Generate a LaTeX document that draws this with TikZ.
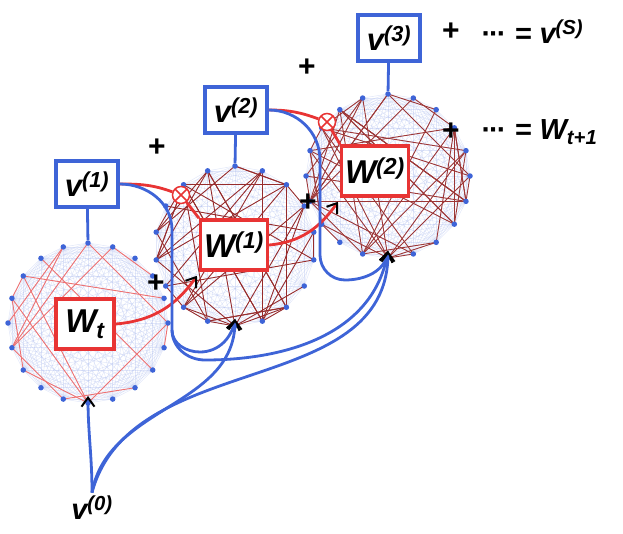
\documentclass[tikz,border=0pt]{standalone}
\usepackage{fontspec}
\setmainfont{Liberation Sans}
\usetikzlibrary{arrows.meta}

\definecolor{vblue}{RGB}{62,100,215}
\definecolor{wred}{RGB}{232,52,52}
\definecolor{dred}{RGB}{140,20,20}

\tikzset{
  dot/.style = {circle, fill=vblue, inner sep=0pt, minimum size=5.5pt},
  vbox/.style = {draw=vblue, line width=3.5pt, fill=white, minimum width=62pt, minimum height=46pt, font=\fontsize{31}{32}\selectfont\bfseries\itshape},
  wbox/.style = {draw=wred, line width=3.5pt, fill=white, minimum width=58pt, minimum height=50pt, font=\fontsize{33}{34}\selectfont\bfseries\itshape},
  bline/.style = {draw=vblue, line width=2.8pt},
  rline/.style = {draw=wred, line width=2.8pt},
  tip/.style = {-{Straight Barb[length=9pt,width=13pt,line width=2pt,black]}},
  otim/.style = {circle, draw=wred, fill=white, line width=1.5pt, minimum size=17pt, inner sep=0pt,
    path picture={\draw[wred, line width=1.5pt] (path picture bounding box.north west) -- (path picture bounding box.south east)
      (path picture bounding box.north east) -- (path picture bounding box.south west);}},
  plus/.style = {font=\fontsize{30}{30}\selectfont\bfseries},
  txt/.style = {font=\fontsize{29}{30}\selectfont\bfseries\itshape}
}

% network: name, centre x, centre y, radius, number of dots, red colour, number of red edges
\newcommand{\drawnet}[7]{
  \foreach \i in {0,...,\numexpr#5-1} {
    \coordinate (#1-p\i) at ({#2+#4*cos(90-\i*360/#5)}, {#3-#4*sin(90-\i*360/#5)});
  }
  \foreach \i in {0,...,\numexpr#5-2} {
    \foreach \j in {\i,...,\numexpr#5-1} {
      \draw[vblue!50, opacity=0.3, line width=0.5pt] (#1-p\i) -- (#1-p\j);
    }
  }
  \pgfmathsetseed{#5}
  \foreach \k in {1,...,#7} {
    \pgfmathrandominteger{\a}{0}{#5-1}
    \pgfmathrandominteger{\b}{0}{#5-1}
    \draw[#6, line width=0.9pt] (#1-p\a) -- (#1-p\b);
  }
  \foreach \i in {0,...,\numexpr#5-1} {
    \node[dot] (#1-\i) at (#1-p\i) {};
  }
}

\begin{document}
\begin{tikzpicture}[x=1pt, y=-1pt]
\useasboundingbox (0,0) rectangle (623,533);

\drawnet{na}{88}{323}{80}{20}{wred!70}{18}
\drawnet{nb}{235}{246}{80}{18}{dred!90}{45}
\drawnet{nc}{388}{176}{82}{20}{dred!85}{50}

% boxes
\node[vbox] (v1) at (87,184) {v\textsuperscript{(1)}};
\node[vbox] (v2) at (236,110) {v\textsuperscript{(2)}};
\node[vbox] (v3) at (389,38) {v\textsuperscript{(3)}};
\node[wbox] (Wt) at (85,324) {W\textsubscript{t}};
\node[wbox] (W1) at (234,245) {W\textsuperscript{(1)}};
\node[wbox] (W2) at (375,171) {W\textsuperscript{(2)}};
\node[otim] (o1) at (181,195) {};
\node[otim] (o2) at (327,122) {};
\node[txt] (v0) at (92,508) {v\textsuperscript{(0)}};

% plus signs and sums
\node[plus] (p1) at (157,148) {+};
\node[plus] (p2) at (156,284) {+};
\node[plus] (p3) at (307,68) {+};
\node[plus] (p4) at (308,203) {+};
\node[plus] (p5) at (451,32) {+};
\node[plus] (p6) at (451,132) {+};
\node[txt, anchor=west] (sv) at (478,32) {{\upshape\textperiodcentered\kern-2pt\textperiodcentered\kern-2pt\textperiodcentered} = v\textsuperscript{(S)}};
\node[txt, anchor=west] (sw) at (478,132) {{\upshape\textperiodcentered\kern-2pt\textperiodcentered\kern-2pt\textperiodcentered} = W\textsubscript{t+1}};

% links to the nets
\draw[bline] (v1) -- (na-0);
\draw[bline] (v2) -- (nb-0);
\draw[bline] (v3) -- (nc-0);
\draw[rline] (v1.east) to[out=0, in=160] (o1);
\draw[rline] (o1) -- (W1.north west);
\draw[rline] (v2.east) to[out=0, in=160] (o2);
\draw[rline] (o2) -- (W2.north west);
\draw[rline, tip] (Wt.east) to[out=5, in=235] ([xshift=-2pt, yshift=-4pt]W1.south west);
\draw[rline, tip] (W1.east) to[out=5, in=235] ([xshift=-2pt, yshift=-4pt]W2.south west);

% vector flow
\draw[bline, tip] (v1.east) to[out=0, in=90] (172,230) -- (172,330) to[out=-90, in=180] (200,352) to[out=0, in=-100] ([yshift=10pt]nb-9.south);
\draw[bline, tip] (172,330) to[out=-90, in=180] (205,360) to[out=0, in=-100] ([yshift=10pt]nc-10.south);
\draw[bline, tip] (v2.east) to[out=0, in=90] (320,160) -- (320,255) to[out=-90, in=180] (345,280) to[out=0, in=-100] ([yshift=10pt]nc-10.south);
\draw[bline, tip] (v0.north) to[out=90, in=-90] ([yshift=10pt]na-10.south);
\draw[bline, tip] (v0.north) to[out=80, in=-90] ([yshift=10pt]nb-9.south);
\draw[bline, tip] (v0.north) to[out=75, in=-90] ([yshift=10pt]nc-10.south);
\end{tikzpicture}
\end{document}
